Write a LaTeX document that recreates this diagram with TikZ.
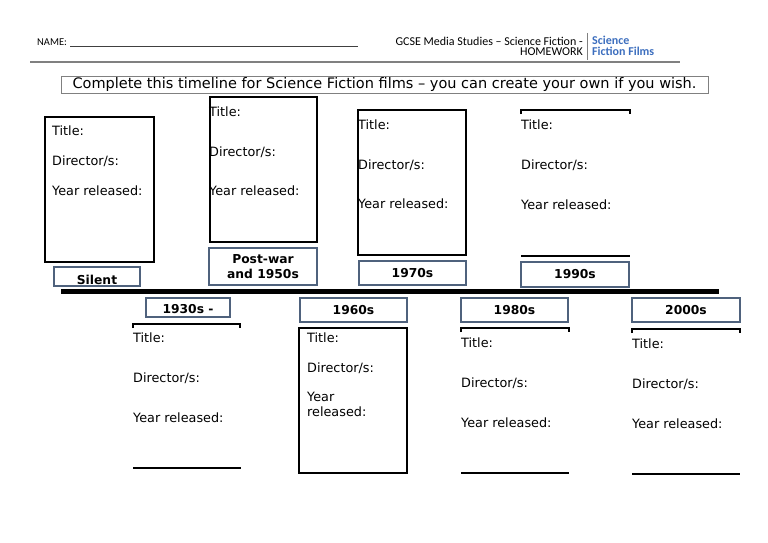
\documentclass[tikz,border=0pt]{standalone}
\usepackage{fontspec}
\setmainfont{DejaVu Sans}
\newfontfamily\hdrfont{Carlito}
\definecolor{lblblue}{RGB}{79,98,125}
\definecolor{hdrblue}{RGB}{60,110,190}
\definecolor{rulegrey}{RGB}{128,128,128}
\begin{document}
\begin{tikzpicture}[x=1pt,y=-1pt,
  field/.style={anchor=west,inner sep=0pt,font=\fontsize{12.8}{15}\selectfont},
  filmbox/.style={draw=black,line width=1.4pt,inner sep=0pt},
  decade/.style={draw=lblblue,line width=1.2pt,inner sep=0pt,align=center,
    font=\bfseries\fontsize{12.3}{14}\selectfont},
  lbltext/.style={inner sep=0pt,font=\bfseries\fontsize{12.3}{14}\selectfont},
  bracket/.style={draw=black,line width=1.4pt},
  baseline/.style={draw=black,line width=1.2pt},
  hdr/.style={inner sep=0pt,font=\hdrfont\fontsize{12}{13}\selectfont},
  hdrb/.style={inner sep=0pt,text=hdrblue,font=\hdrfont\bfseries\fontsize{12}{13}\selectfont}]
\useasboundingbox (0,0) rectangle (768,543);
% header
\node[hdr,anchor=west,font=\hdrfont\fontsize{10.5}{12}\selectfont] (name) at (37,42) {NAME:};
\coordinate (namestart) at (70,46);
\coordinate (nameend) at (358,46);
\draw[black!75,line width=0.7pt] (namestart) -- (nameend);
\node[hdr,anchor=east] (gcse) at (583,41) {GCSE Media Studies – Science Fiction -};
\node[hdr,anchor=east] (hw) at (583,52) {HOMEWORK};
\draw[rulegrey,line width=0.8pt] (587,33) -- (587,60);
\node[hdrb,anchor=west] (sci) at (592,40) {Science};
\node[hdrb,anchor=west] (ff) at (592,51) {Fiction Films};
\draw[rulegrey,line width=2pt] (30,62) -- (680,62);
% instruction
\node[draw=rulegrey,line width=0.8pt,minimum width=647pt,minimum height=17pt,inner sep=0pt,
  font=\fontsize{14.5}{16}\selectfont] (instr) at (384.5,84.5)
  {Complete this timeline for Science Fiction films – you can create your own if you wish.};
% timeline bar
\fill[black] (61,289) rectangle (719,294);
% ---- Silent
\node[filmbox,minimum width=109pt,minimum height=145pt] (silentbox) at (99.5,189.5) {};
\node[field] (s1) at (52,131) {Title:};
\node[field] (s2) at (52,161) {Director/s:};
\node[field] (s3) at (52,191) {Year released:};
\node[decade,minimum width=86pt,minimum height=19pt] (silent) at (97,276.5) {};
\begin{scope}
  \clip (55,268) rectangle (139,285);
  \node[lbltext] (silenttxt) at (97,280) {Silent};
\end{scope}
% ---- Post-war
\node[filmbox,minimum width=107pt,minimum height=145pt] (pwbox) at (263.5,169.5) {};
\node[field] (p1) at (209,112) {Title:};
\node[field] (p2) at (209,152) {Director/s:};
\node[field] (p3) at (209,191) {Year released:};
\node[decade,minimum width=108pt,minimum height=37pt] (postwar) at (263,266.5) {Post-war\\[1pt]and 1950s};
% ---- 1970s
\node[filmbox,minimum width=108pt,minimum height=145pt] (sevbox) at (412,182.5) {};
\node[field] (v1) at (358,125) {Title:};
\node[field] (v2) at (358,165) {Director/s:};
\node[field] (v3) at (358,204) {Year released:};
\node[decade,minimum width=107pt,minimum height=24pt] (seventies) at (412.5,273) {1970s};
% ---- 1990s
\draw[bracket] (521,114) -- (521,110) -- (630,110) -- (630,114);
\coordinate (n0) at (521,256);
\coordinate (n1) at (630,256);
\draw[baseline] (n0) -- (n1);
\node[field] (n2) at (521,125) {Title:};
\node[field] (n3) at (521,165) {Director/s:};
\node[field] (n4) at (521,205) {Year released:};
\node[decade,minimum width=108pt,minimum height=25pt] (nineties) at (575,274.5) {1990s};
% ---- 1930s
\node[decade,minimum width=84pt,minimum height=19pt] (thirties) at (188,307.5) {};
\begin{scope}
  \clip (147,304.5) rectangle (229,316);
  \node[lbltext] (thirtiestxt) at (188,309.5) {1930s -};
\end{scope}
\draw[bracket] (133,328) -- (133,324) -- (240,324) -- (240,328);
\node[field] (t1) at (133,338) {Title:};
\node[field] (t2) at (133,378) {Director/s:};
\node[field] (t3) at (133,418) {Year released:};
\coordinate (t4) at (133,468);
\coordinate (t5) at (241,468);
\draw[baseline] (t4) -- (t5);
% ---- 1960s
\node[decade,minimum width=107pt,minimum height=24pt] (sixties) at (353.5,310) {1960s};
\node[filmbox,minimum width=108pt,minimum height=145pt] (sixbox) at (353,400.5) {};
\node[field] (x1) at (307,338) {Title:};
\node[field] (x2) at (307,368) {Director/s:};
\node[field] (x3) at (307,397) {Year};
\node[field] (x4) at (307,412) {released:};
% ---- 1980s
\node[decade,minimum width=107pt,minimum height=24pt] (eighties) at (514.5,310) {1980s};
\draw[bracket] (461,332) -- (461,328) -- (569,328) -- (569,332);
\node[field] (e1) at (461,343) {Title:};
\node[field] (e2) at (461,383) {Director/s:};
\node[field] (e3) at (461,423) {Year released:};
\coordinate (e4) at (461,473);
\coordinate (e5) at (569,473);
\draw[baseline] (e4) -- (e5);
% ---- 2000s
\node[decade,minimum width=108pt,minimum height=24pt] (noughties) at (686,310) {2000s};
\draw[bracket] (632,333) -- (632,329) -- (740,329) -- (740,333);
\node[field] (o1) at (632,344) {Title:};
\node[field] (o2) at (632,384) {Director/s:};
\node[field] (o3) at (632,424) {Year released:};
\coordinate (o4) at (632,474);
\coordinate (o5) at (740,474);
\draw[baseline] (o4) -- (o5);
\end{tikzpicture}
\end{document}
